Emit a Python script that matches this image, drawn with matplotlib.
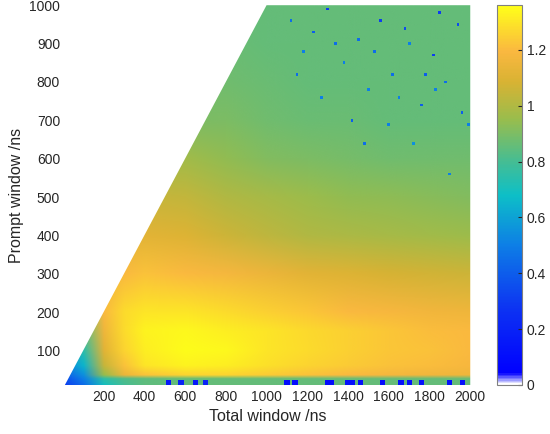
import numpy as np
import matplotlib
matplotlib.use("Agg")
import matplotlib.pyplot as plt
from matplotlib.colors import LinearSegmentedColormap, Normalize
from matplotlib.image import NonUniformImage
from matplotlib.patches import Polygon

plt.rcParams["font.family"] = ["Liberation Sans", "DejaVu Sans"]

total_ns = [0, 100, 200, 300, 400, 600, 800, 1000, 1200, 1400, 1600, 1800, 2000]
prompt_ns = [10, 25, 35, 60, 100, 150, 200, 300, 400, 500, 600, 700, 800, 900, 1000]
values = [
    [0.30, 0.45, 0.70, 0.80, 0.85, 0.86, 0.86, 0.86, 0.86, 0.86, 0.86, 0.86, 0.86],
    [0.35, 0.50, 0.75, 0.82, 0.85, 0.86, 0.86, 0.86, 0.86, 0.86, 0.86, 0.86, 0.86],
    [0.40, 0.55, 0.95, 1.15, 1.22, 1.26, 1.26, 1.24, 1.22, 1.20, 1.18, 1.17, 1.16],
    [0.50, 0.65, 1.05, 1.22, 1.30, 1.33, 1.32, 1.29, 1.26, 1.24, 1.22, 1.21, 1.19],
    [0.60, 0.75, 1.12, 1.26, 1.32, 1.35, 1.34, 1.30, 1.28, 1.25, 1.23, 1.22, 1.20],
    [0.70, 0.85, 1.16, 1.28, 1.33, 1.34, 1.32, 1.30, 1.27, 1.25, 1.23, 1.21, 1.20],
    [0.80, 0.90, 1.20, 1.28, 1.30, 1.30, 1.28, 1.25, 1.23, 1.20, 1.19, 1.17, 1.16],
    [0.90, 1.00, 1.15, 1.20, 1.22, 1.20, 1.18, 1.15, 1.12, 1.10, 1.08, 1.07, 1.06],
    [1.00, 1.05, 1.10, 1.12, 1.12, 1.10, 1.06, 1.03, 1.00, 0.99, 0.98, 0.97, 0.96],
    [1.00, 1.02, 1.04, 1.05, 1.05, 1.04, 1.00, 0.98, 0.96, 0.94, 0.93, 0.92, 0.91],
    [0.95, 0.95, 0.96, 0.97, 0.97, 0.97, 0.94, 0.91, 0.90, 0.89, 0.88, 0.88, 0.88],
    [0.90, 0.90, 0.90, 0.90, 0.90, 0.90, 0.90, 0.88, 0.87, 0.87, 0.86, 0.86, 0.86],
    [0.88, 0.88, 0.88, 0.88, 0.88, 0.88, 0.88, 0.87, 0.86, 0.86, 0.86, 0.86, 0.86],
    [0.87, 0.87, 0.87, 0.87, 0.87, 0.87, 0.87, 0.86, 0.86, 0.86, 0.86, 0.86, 0.86],
    [0.86, 0.86, 0.86, 0.86, 0.86, 0.86, 0.86, 0.86, 0.86, 0.86, 0.86, 0.86, 0.86],
]
speck_x = [1120, 1180, 1230, 1300, 1380, 1450, 1500, 1560, 1620, 1700, 1760, 1820, 1880, 1940, 1990,
           1150, 1270, 1420, 1530, 1650, 1720, 1850, 1960, 1340, 1600, 1780, 1900, 1480, 1680, 1830]
speck_y = [960, 880, 930, 990, 850, 910, 780, 960, 820, 900, 740, 870, 800, 950, 690,
           820, 760, 700, 880, 760, 640, 980, 720, 900, 690, 820, 560, 640, 940, 780]
speck_v = [0.45, 0.5, 0.4, 0.3, 0.5, 0.45, 0.5, 0.3, 0.45, 0.5, 0.4, 0.3, 0.45, 0.35, 0.5,
           0.45, 0.5, 0.4, 0.45, 0.5, 0.55, 0.3, 0.4, 0.45, 0.5, 0.4, 0.5, 0.45, 0.35, 0.5]
bottom_x = [1100, 1140, 1300, 1320, 1400, 1420, 1460, 1570, 1660, 1700, 1760, 1900, 1960, 520, 580, 650, 700]
bottom_v = [0.1, 0.1, 0.1, 0.1, 0.12, 0.12, 0.12, 0.1, 0.12, 0.12, 0.12, 0.12, 0.12, 0.15, 0.2, 0.15, 0.2]

cmap = LinearSegmentedColormap.from_list("c", [
    (0.0, (1, 1, 1)), (0.03, (0.0, 0.0, 1.0)), (0.2, (0.05, 0.2, 0.95)),
    (0.37, (0.05, 0.5, 0.9)), (0.5, (0.05, 0.75, 0.78)), (0.6, (0.3, 0.74, 0.55)),
    (0.7, (0.6, 0.74, 0.3)), (0.8, (0.85, 0.7, 0.2)), (0.88, (0.98, 0.72, 0.25)),
    (1.0, (1.0, 1.0, 0.1))])
norm = Normalize(0, 1.36)

fig = plt.figure(figsize=(5.5, 4.34), dpi=100)
ax = fig.add_axes([0.118, 0.113, 0.737, 0.875])
cax = fig.add_axes([0.903, 0.113, 0.046, 0.875])

im = NonUniformImage(ax, interpolation="bilinear", cmap=cmap, norm=norm,
                     extent=(0, 2000, 10, 1000))
im.set_data(np.array(total_ns, float), np.array(prompt_ns, float), np.array(values))
ax.add_image(im)
clip = Polygon([(0, 0), (1000, 1000), (2000, 1000), (2000, 0)], transform=ax.transData)
im.set_clip_path(clip)

ax.scatter(speck_x, speck_y, c=speck_v, cmap=cmap, norm=norm, marker="s", s=4, linewidths=0)
ax.scatter(bottom_x, [17] * len(bottom_x), c=bottom_v, cmap=cmap, norm=norm, marker="s", s=14, linewidths=0)

ax.set_xlim(10, 2000)
ax.set_ylim(10, 1000)
ax.set_xticks(range(200, 2001, 200))
ax.set_yticks(range(100, 1001, 100))
ax.tick_params(labelsize=10, colors="#262626", direction="in", length=0)
ax.set_xlabel("Total window /ns", fontsize=11.5, color="#262626")
ax.set_ylabel("Prompt window /ns", fontsize=11.5, color="#262626")
for s in ax.spines.values():
    s.set_visible(False)

cb = fig.colorbar(plt.cm.ScalarMappable(norm=norm, cmap=cmap), cax=cax)
cb.set_ticks([0, 0.2, 0.4, 0.6, 0.8, 1.0, 1.2])
cb.set_ticklabels(["0", "0.2", "0.4", "0.6", "0.8", "1", "1.2"])
cb.ax.tick_params(labelsize=10, colors="#262626", direction="in", length=3)
cb.outline.set_edgecolor("#808080")

fig.savefig("out.png", dpi=100)
